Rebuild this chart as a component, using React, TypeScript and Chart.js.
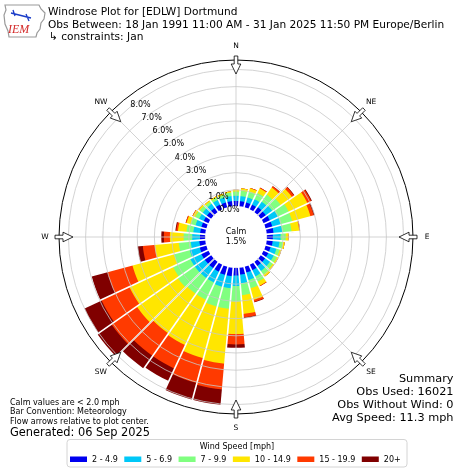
import { useEffect, useRef } from "react";
import { Chart, registerables } from "chart.js";

Chart.register(...registerables);

// ---------------- data ----------------
const directions = [0, 10, 20, 30, 40, 50, 60, 70, 80, 90, 100, 110, 120, 130, 140, 150, 160, 170,
  180, 190, 200, 210, 220, 230, 240, 250, 260, 270, 280, 290, 300, 310, 320, 330, 340, 350];

const speedLabels = ["2 - 4.9", "5 - 6.9", "7 - 9.9", "10 - 14.9", "15 - 19.9", "20+"];
const speedColors = ["#0000f0", "#00c8f8", "#80ff80", "#ffe600", "#ff3a00", "#800000"];

// percent of observations per direction bin, per speed class
const spd2to5 = [0.35, 0.35, 0.35, 0.35, 0.4, 0.4, 0.45, 0.45, 0.45, 0.4, 0.4, 0.35, 0.35, 0.35, 0.35, 0.4, 0.4, 0.45,
  0.5, 0.55, 0.55, 0.5, 0.5, 0.5, 0.5, 0.45, 0.4, 0.35, 0.35, 0.35, 0.35, 0.35, 0.35, 0.35, 0.35, 0.35];
const spd5to7 = [0.3, 0.3, 0.3, 0.35, 0.4, 0.45, 0.5, 0.5, 0.5, 0.45, 0.4, 0.35, 0.35, 0.35, 0.35, 0.4, 0.45, 0.5,
  0.6, 0.7, 0.7, 0.7, 0.7, 0.7, 0.7, 0.6, 0.5, 0.45, 0.4, 0.35, 0.3, 0.3, 0.3, 0.3, 0.3, 0.3];
const spd7to10 = [0.25, 0.3, 0.35, 0.4, 0.5, 0.6, 0.7, 0.7, 0.55, 0.3, 0.2, 0.2, 0.2, 0.2, 0.25, 0.35, 0.5, 0.7,
  0.9, 1.2, 1.2, 1.1, 1.1, 1.2, 1.1, 0.95, 0.7, 0.5, 0.4, 0.3, 0.25, 0.2, 0.15, 0.15, 0.15, 0.2];
const spd10to15 = [0.1, 0.15, 0.2, 0.3, 0.5, 0.8, 1.2, 1.1, 0.45, 0.15, 0.1, 0.1, 0.1, 0.1, 0.15, 0.25, 0.7, 1.1,
  1.9, 3.2, 3.1, 2.9, 2.8, 2.9, 2.8, 2.5, 1.4, 0.8, 0.5, 0.25, 0.15, 0.1, 0.08, 0.08, 0.08, 0.08];
const spd15to20 = [0, 0, 0.02, 0.05, 0.1, 0.15, 0.25, 0.2, 0.05, 0, 0, 0, 0, 0, 0, 0.03, 0.12, 0.2,
  0.6, 1.5, 1.5, 1.5, 1.6, 1.8, 1.8, 1.5, 0.7, 0.35, 0.1, 0.05, 0.02, 0, 0, 0, 0, 0];
const spd20plus = [0, 0, 0, 0, 0.02, 0.03, 0.05, 0.05, 0, 0, 0, 0, 0, 0, 0, 0, 0.03, 0.05,
  0.2, 0.9, 1.0, 0.8, 0.9, 1.0, 1.1, 0.95, 0.3, 0.15, 0.05, 0, 0, 0, 0, 0, 0, 0];

const speedSeries = [spd2to5, spd5to7, spd7to10, spd10to15, spd15to20, spd20plus];

const radialTicks = [0, 1, 2, 3, 4, 5, 6, 7, 8];
const gridTicks = [1, 2, 3, 4, 5, 6, 7, 8];
const axisMin = -1.744;
const axisMax = 8.547;

const calmPercent = "1.5%";
const compassLabels = ["N", "NE", "E", "SE", "S", "SW", "W", "NW"];
const compassAngles = [0, 45, 90, 135, 180, 225, 270, 315];

const titleLines = [
  "Windrose Plot for [EDLW] Dortmund",
  "Obs Between: 18 Jan 1991 11:00 AM - 31 Jan 2025 11:50 PM Europe/Berlin",
  "\u21b3 constraints: Jan",
];
const noteLines = ["Calm values are < 2.0 mph", "Bar Convention: Meteorology", "Flow arrows relative to plot center."];
const generatedText = "Generated: 06 Sep 2025";
const summaryLines = ["Summary", "Obs Used: 16021", "Obs Without Wind: 0", "Avg Speed: 11.3 mph"];
const legendTitle = "Wind Speed [mph]";

const FONT = "'DejaVu Sans', 'Liberation Sans', sans-serif";
const D2R = Math.PI / 180;
const GRID = "#c8c8c8";

const totals = directions.map((_, d) => speedSeries.reduce((s, arr) => s + arr[d], 0));

const windrosePlugin = {
  id: "windrose",
  afterDatasetsDraw(chart: any) {
    const sc = chart.scales.r;
    const ctx: CanvasRenderingContext2D = chart.ctx;
    const cx = sc.xCenter, cy = sc.yCenter;
    const r0 = sc.getDistanceFromCenterForValue(0);
    ctx.save();
    // gaps between direction bars
    ctx.strokeStyle = "#ffffff";
    ctx.lineWidth = 1.6;
    directions.forEach((d, i) => {
      const prev = totals[(i + directions.length - 1) % directions.length];
      const len = sc.getDistanceFromCenterForValue(Math.max(prev, totals[i])) + 1;
      const a = (d - 5) * D2R;
      ctx.beginPath();
      ctx.moveTo(cx + r0 * Math.sin(a), cy - r0 * Math.cos(a));
      ctx.lineTo(cx + len * Math.sin(a), cy - len * Math.cos(a));
      ctx.stroke();
    });
    // calm disk
    ctx.fillStyle = "#ffffff";
    ctx.beginPath();
    ctx.arc(cx, cy, r0 + 1, 0, Math.PI * 2);
    ctx.fill();
    ctx.fillStyle = "#000";
    ctx.font = `8px ${FONT}`;
    ctx.textAlign = "center";
    ctx.textBaseline = "middle";
    ctx.fillText("Calm", cx, cy - 5);
    ctx.fillText(calmPercent, cx, cy + 5);
    ctx.restore();
  },
  afterDraw(chart: any) {
    const sc = chart.scales.r;
    const ctx: CanvasRenderingContext2D = chart.ctx;
    const cx = sc.xCenter, cy = sc.yCenter;
    const r0 = sc.getDistanceFromCenterForValue(0);
    const rMax = sc.drawingArea;
    ctx.save();
    // grid circles (on top of the bars)
    ctx.strokeStyle = GRID;
    ctx.lineWidth = 0.8;
    for (const t of gridTicks) {
      ctx.beginPath();
      ctx.arc(cx, cy, sc.getDistanceFromCenterForValue(t), 0, Math.PI * 2);
      ctx.stroke();
    }
    // spokes
    for (const a0 of compassAngles) {
      const a = a0 * D2R;
      ctx.beginPath();
      ctx.moveTo(cx + r0 * Math.sin(a), cy - r0 * Math.cos(a));
      ctx.lineTo(cx + rMax * Math.sin(a), cy - rMax * Math.cos(a));
      ctx.stroke();
    }
    // outer circle
    ctx.strokeStyle = "#000";
    ctx.lineWidth = 1;
    ctx.beginPath();
    ctx.arc(cx, cy, rMax, 0, Math.PI * 2);
    ctx.stroke();
    // arrows + compass labels
    compassAngles.forEach((a0, i) => {
      const a = a0 * D2R;
      const s = Math.sin(a), c = Math.cos(a);
      const P = (r: number, w: number): [number, number] => [cx + r * s + w * c, cy - r * c + w * s];
      const rT = rMax + 4, rH = rMax - 4, rTip = rMax - 14;
      const pts = [P(rT, -1.8), P(rH, -1.8), P(rH, -4.8), P(rTip, 0), P(rH, 4.8), P(rH, 1.8), P(rT, 1.8)];
      ctx.beginPath();
      ctx.moveTo(pts[0][0], pts[0][1]);
      for (let k = 1; k < pts.length; k++) ctx.lineTo(pts[k][0], pts[k][1]);
      ctx.closePath();
      ctx.fillStyle = "#fff";
      ctx.fill();
      ctx.strokeStyle = "#000";
      ctx.lineWidth = 0.8;
      ctx.stroke();
      const [lx, ly] = P(rMax + 14, 0);
      ctx.fillStyle = "#000";
      ctx.font = `7.5px ${FONT}`;
      ctx.textAlign = "center";
      ctx.textBaseline = "middle";
      ctx.fillText(compassLabels[i], lx, ly);
    });
    // radial tick labels
    const ua = -40.3 * D2R;
    ctx.font = `8px ${FONT}`;
    ctx.fillStyle = "#000";
    ctx.textAlign = "center";
    ctx.textBaseline = "middle";
    for (const t of radialTicks) {
      const r = sc.getDistanceFromCenterForValue(t);
      ctx.fillText(t.toFixed(1) + "%", cx + r * Math.sin(ua) + 12.9, cy - r * Math.cos(ua) - 4.2);
    }
    // logo
    ctx.strokeStyle = "#9a9a9a";
    ctx.lineWidth = 1.2;
    ctx.beginPath();
    const iowa = [[5, 5], [39, 5], [41, 9], [45, 13], [44, 19], [41, 23], [40, 29], [37, 33], [36, 37], [9, 37], [8, 31], [5, 24], [4, 15], [6, 10]];
    ctx.moveTo(iowa[0][0], iowa[0][1]);
    for (const p of iowa.slice(1)) ctx.lineTo(p[0], p[1]);
    ctx.closePath();
    ctx.stroke();
    ctx.strokeStyle = "#1a3cc8";
    ctx.lineWidth = 1.3;
    ctx.beginPath();
    ctx.moveTo(11, 13); ctx.lineTo(31, 18);
    ctx.moveTo(13, 10); ctx.lineTo(15, 16);
    ctx.moveTo(26, 14); ctx.lineTo(29, 21);
    ctx.stroke();
    ctx.fillStyle = "#d42a2a";
    ctx.font = `italic 12px 'Liberation Serif', 'DejaVu Serif', serif`;
    ctx.textAlign = "left";
    ctx.textBaseline = "alphabetic";
    ctx.fillText("IEM", 8, 33);
    // title
    ctx.fillStyle = "#000";
    ctx.font = `10.6px ${FONT}`;
    ctx.textBaseline = "middle";
    ctx.fillText(titleLines[0], 48, 12.5);
    ctx.fillText(titleLines[1], 48, 25);
    ctx.fillText(titleLines[2], 49, 37.5);
    // notes bottom-left
    ctx.font = `8px ${FONT}`;
    noteLines.forEach((t, i) => ctx.fillText(t, 10, 402.5 + i * 9.9));
    ctx.font = `11.4px ${FONT}`;
    ctx.fillText(generatedText, 10, 433);
    // summary bottom-right
    ctx.textAlign = "right";
    ctx.font = `11.3px ${FONT}`;
    summaryLines.forEach((t, i) => ctx.fillText(t, 453.5, 379.5 + i * 12.7));
    // legend
    ctx.fillStyle = "rgba(255,255,255,0.85)";
    ctx.strokeStyle = "#d4d4d4";
    ctx.lineWidth = 1;
    ctx.beginPath();
    (ctx as any).roundRect(67, 439.5, 340, 27.5, 3);
    ctx.fill();
    ctx.stroke();
    ctx.fillStyle = "#000";
    ctx.font = `8px ${FONT}`;
    ctx.textAlign = "center";
    ctx.fillText(legendTitle, 237, 446.5);
    ctx.textAlign = "left";
    let x = 70;
    speedLabels.forEach((lab, i) => {
      ctx.fillStyle = speedColors[i];
      ctx.fillRect(x, 456.5, 17, 5.5);
      ctx.fillStyle = "#000";
      ctx.fillText(lab, x + 22, 459.5);
      x = x + 22 + ctx.measureText(lab).width + 6.5;
    });
    ctx.restore();
  },
};

export default function App() {
  const ref = useRef<HTMLCanvasElement>(null);
  useEffect(() => {
    const cumulative = speedSeries.map((_, i) =>
      directions.map((_, d) => {
        let s = 0;
        for (let k = 0; k <= i; k++) s += speedSeries[k][d];
        return s;
      })
    );
    const chart = new Chart(ref.current as HTMLCanvasElement, {
      type: "polarArea",
      data: {
        labels: directions.map((d) => String(d)),
        datasets: speedLabels.map((lab, i) => ({
          label: lab,
          data: cumulative[i],
          backgroundColor: speedColors[i],
          borderWidth: 0,
        })),
      },
      options: {
        responsive: false,
        animation: false,
        layout: { padding: { left: 59, top: 60, right: 61, bottom: 60 } },
        plugins: { legend: { display: false }, tooltip: { enabled: false }, title: { display: false } },
        scales: {
          r: {
            min: axisMin,
            max: axisMax,
            startAngle: -5,
            ticks: { display: false },
            grid: { display: false, circular: true },
            angleLines: { display: false },
            pointLabels: { display: false },
            afterBuildTicks: (scale: any) => {
              scale.ticks = gridTicks.map((v) => ({ value: v }));
            },
          },
        },
      } as any,
      plugins: [windrosePlugin],
    });
    return () => chart.destroy();
  }, []);
  return (
    <div style={{ position: "fixed", left: 0, top: 0, width: 474, height: 474, background: "#fff" }}>
      <canvas ref={ref} width={474} height={474} style={{ display: "block" }} />
    </div>
  );
}
